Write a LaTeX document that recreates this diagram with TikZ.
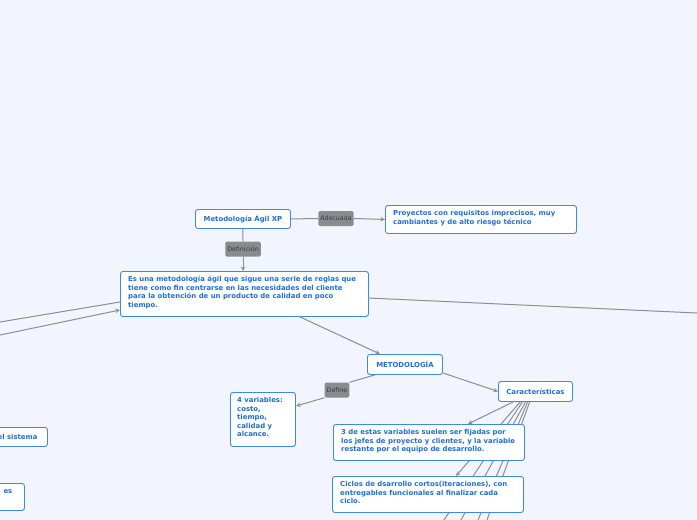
\documentclass[tikz,border=0pt]{standalone}
\usepackage{fontspec}
\setmainfont{DejaVu Sans}
\begin{document}
\begin{tikzpicture}[x=1pt,y=-1pt,
  tf/.style={font=\bfseries\fontsize{6.9}{8.6}\selectfont,text=txtc},
  box/.style={draw=boxc,line width=0.9pt,rounded corners=2.5pt,fill=white,inner sep=0pt,anchor=north west},
  tx/.style={tf,align=left,inner sep=0pt,anchor=north west},
  lab/.style={fill=labc,rounded corners=1.5pt,text=labt,font=\fontsize{6.3}{7}\selectfont,inner sep=2pt,minimum height=15pt},
  con/.style={draw=linec,line width=1pt},
  arr/.style={con,-stealth}]
\definecolor{boxc}{HTML}{3D8BE0}
\definecolor{txtc}{HTML}{1F6FD6}
\definecolor{labc}{HTML}{8A8B8E}
\definecolor{labt}{HTML}{3A3A3A}
\definecolor{linec}{HTML}{8C8E92}
\definecolor{bgc}{HTML}{F2F5FE}
\fill[bgc] (0,0) rectangle (697,520);
\useasboundingbox (0,0) rectangle (697,520);
\begin{scope}
\clip (0,0) rectangle (697,520);
\coordinate (l1) at (0,322);
\coordinate (l2) at (0,335);
\coordinate (r1) at (697,313);
\coordinate (b1) at (444,520);
\coordinate (b2) at (461,520);
\coordinate (b3) at (478,520);
\coordinate (b4) at (487,520);
\coordinate (c1) at (523,401);
\coordinate (c2) at (526,401);
\coordinate (c3) at (528,401);
\coordinate (c4) at (530,401);
\coordinate (c5) at (521,401);
\draw[con] (c1) -- (b1) (c2) -- (b2) (c3) -- (b3) (c4) -- (b4);
\draw[arr] (c5) -- (456,476);
\node[box,minimum width=95pt,minimum height=19pt] (xp) at (195,209) {};
\node[tf] at (xp.center) {Metodología Ágil XP};
\node[box,minimum width=191pt,minimum height=28pt] (proy) at (385,205) {};
\node[tx] at (393,210) {Proyectos con requisitos imprecisos, muy\\cambiantes y de alto riesgo técnico};
\node[box,minimum width=248pt,minimum height=45pt] (def) at (120,271) {};
\node[tx] at (128,276) {Es una metodología ágil que sigue una serie de reglas que\\tiene como fin centrarse en las necesidades del cliente\\para la obtención de un producto de calidad en poco\\tiempo.};
\node[box,minimum width=75pt,minimum height=20pt] (met) at (367,354) {};
\node[tf] at (met.center) {METODOLOGÍA};
\node[box,minimum width=65pt,minimum height=54pt] (var) at (230,392) {};
\node[tx] at (237,397) {4 variables:\\costo,\\tiempo,\\calidad y\\alcance.};
\node[box,minimum width=74pt,minimum height=20pt] (car) at (498,381) {};
\node[tf] at (car.center) {Características};
\node[box,minimum width=191pt,minimum height=36pt] (tres) at (333,424) {};
\node[tx] at (341,429) {3 de estas variables suelen ser fijadas por\\los jefes de proyecto y clientes, y la variable\\restante por el equipo de desarrollo.};
\node[box,minimum width=191pt,minimum height=36pt] (cic) at (332,476) {};
\node[tx] at (340,481) {Ciclos de dsarrollo cortos(iteraciones), con\\entregables funcionales al finalizar cada\\ciclo.};
\node[box,minimum width=60pt,minimum height=19pt] (sis) at (-13,427) {};
\node[tf,anchor=east] at (41,436.5) {el sistema};
\node[box,minimum width=40pt,minimum height=27pt] (es) at (-16,483) {};
\node[tf,anchor=west] at (0,492) {es};
\node[lab] (ade) at (336,218.5) {Adecuada};
\node[lab] (defl) at (243,249) {Definición};
\node[lab] (dfn) at (337,390) {Define};
\draw[con] (xp.east) -- (ade.west);
\draw[arr] (ade.east) -- (proy.west);
\draw[con] (xp.south) -- (defl.north);
\draw[arr] (defl.south) -- (243,271);
\coordinate (d1) at (120,302);
\coordinate (d2) at (120,310);
\coordinate (d3) at (368,298);
\draw[con] (d1) -- (l1);
\draw[arr] (l2) -- (d2);
\draw[con] (d3) -- (r1);
\draw[arr] (298,316) -- (380,354);
\draw[con] (378,374) -- (dfn.north east);
\draw[arr] (dfn.south west) -- (296,406);
\draw[arr] (443,373) -- (car.west);
\draw[arr] (515,401) -- (468,424);
\end{scope}
\end{tikzpicture}
\end{document}
